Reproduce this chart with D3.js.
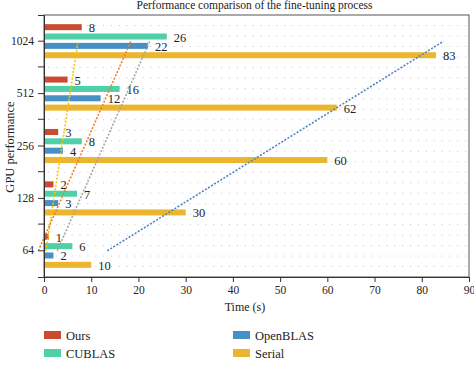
<!DOCTYPE html>
<html>
<head>
<meta charset="utf-8">
<script src="https://cdn.jsdelivr.net/npm/d3@7"></script>
<style>
body { margin: 0; background: #fff; }
svg text { font-family: "Liberation Serif", "DejaVu Serif", serif; fill: #222; }
</style>
</head>
<body>
<script>
var width = 474;
var height = 376;

// data
var categories = ["64", "128", "256", "512", "1024"];
var seriesNames = ["Ours", "CUBLAS", "OpenBLAS", "Serial"];
var ours = [1, 2, 3, 5, 8];
var cublas = [6, 7, 8, 16, 26];
var openblas = [2, 3, 4, 12, 22];
var serial = [10, 30, 60, 62, 83];
var xTicks = [0, 10, 20, 30, 40, 50, 60, 70, 80, 90];

var barColors = ["#cb4a30", "#4fd0a6", "#4690c6", "#ebb52f"];
// trendline colours, one per series
var trendColors = ["#f7c600", "#a6a6a6", "#f07d2c", "#4a84c6"];

var seriesValues = [ours, cublas, openblas, serial];

var plotL = 44, plotR = 469, plotT = 15, plotB = 277;

var svg = d3.select("body")
  .append("svg")
  .attr("width", width)
  .attr("height", height);

var xScale = d3.scaleLinear().domain([0, 90]).range([plotL, plotR]);
var yScale = d3.scaleBand().domain(categories).range([plotB, plotT]);
var subScale = d3.scaleBand().domain(seriesNames)
  .range([-yScale.bandwidth() * 0.357, yScale.bandwidth() * 0.357]);
var barH = 6;

// dotted grid
var gridStep = yScale.bandwidth() / 5;
var gy = d3.range(plotB - gridStep, plotT, -gridStep);
svg.append("g").selectAll("line")
  .data(gy)
  .enter()
  .append("line")
  .attr("x1", plotL + 4)
  .attr("x2", plotR)
  .attr("y1", function(d) { return d; })
  .attr("y2", function(d) { return d; })
  .attr("stroke", "#c4c4c4")
  .attr("stroke-width", 1)
  .attr("stroke-dasharray", "1," + ((xScale(10) - xScale(0)) / 6 - 1));

// bars
seriesNames.forEach(function(name, i) {
  var g = svg.append("g");
  g.selectAll("rect")
    .data(seriesValues[i])
    .enter()
    .append("rect")
    .attr("x", xScale(0))
    .attr("y", function(d, j) {
      return yScale(categories[j]) + yScale.bandwidth() / 2 + subScale(name) + subScale.bandwidth() / 2 - barH / 2;
    })
    .attr("width", function(d) { return xScale(d) - xScale(0); })
    .attr("height", barH)
    .attr("fill", barColors[i]);

  g.selectAll("text")
    .data(seriesValues[i])
    .enter()
    .append("text")
    .text(function(d) { return d; })
    .attr("x", function(d) { return xScale(d) + 7; })
    .attr("y", function(d, j) {
      return yScale(categories[j]) + yScale.bandwidth() / 2 + subScale(name) + subScale.bandwidth() / 2 + 5;
    })
    .attr("font-size", "12.5px");
});

// linear trendlines (least squares on category index)
seriesNames.forEach(function(name, i) {
  var vals = seriesValues[i];
  var xs = vals.map(function(d, j) { return j + 1; });
  var mx = d3.mean(xs), my = d3.mean(vals);
  var sxy = d3.sum(xs, function(x, j) { return (x - mx) * (vals[j] - my); });
  var sxx = d3.sum(xs, function(x) { return (x - mx) * (x - mx); });
  var slope = sxy / sxx, icpt = my - slope * mx;
  var pts = [0, categories.length - 1].map(function(j) {
    return [xScale(icpt + slope * (j + 1)), yScale(categories[j]) + yScale.bandwidth() / 2];
  });
  svg.append("path")
    .attr("d", d3.line()(pts))
    .attr("fill", "none")
    .attr("stroke", trendColors[i])
    .attr("stroke-width", 1.6)
    .attr("stroke-dasharray", "2,1.6");
});

// frame
svg.append("rect")
  .attr("x", plotL).attr("y", plotT)
  .attr("width", plotR - plotL).attr("height", plotB - plotT)
  .attr("fill", "none")
  .attr("stroke", "#555")
  .attr("stroke-width", 1);

// x axis
var xAxis = d3.axisBottom(xScale).tickValues(xTicks).tickSize(5).tickPadding(4);
var gx = svg.append("g")
  .attr("transform", "translate(0," + plotB + ")")
  .call(xAxis);
gx.selectAll("text").attr("font-size", "11.5px").attr("font-family", "Liberation Serif, serif");
gx.selectAll("line, path").attr("stroke", "#333");

// y axis with minor ticks at band edges
var yAxis = d3.axisLeft(yScale).tickSize(6).tickPadding(4);
var gyAxis = svg.append("g")
  .attr("transform", "translate(" + plotL + ",0)")
  .call(yAxis);
gyAxis.selectAll("text").attr("font-size", "11.5px").attr("font-family", "Liberation Serif, serif");
gyAxis.selectAll("line, path").attr("stroke", "#333");
gyAxis.selectAll(".minor")
  .data(categories.slice(0, categories.length - 1))
  .enter()
  .append("line")
  .attr("class", "minor")
  .attr("x1", -6).attr("x2", 0)
  .attr("y1", function(d) { return yScale(d) - 0.5; })
  .attr("y2", function(d) { return yScale(d) - 0.5; })
  .attr("stroke", "#333");

// titles
svg.append("text")
  .text("Performance comparison of the fine-tuning process")
  .attr("x", (plotL + plotR) / 2 - 2)
  .attr("y", 9)
  .attr("text-anchor", "middle")
  .attr("font-size", "11.5px");

svg.append("text")
  .text("Time (s)")
  .attr("x", 245)
  .attr("y", 311)
  .attr("text-anchor", "middle")
  .attr("font-size", "12px");

svg.append("text")
  .text("GPU performance")
  .attr("transform", "translate(14," + ((plotT + plotB) / 2 + 1) + ") rotate(-90)")
  .attr("text-anchor", "middle")
  .attr("font-size", "12.5px");

// legend
var legendPos = [[44, 335], [44, 353], [233, 335], [233, 353]];
var legend = svg.append("g").selectAll("g")
  .data(seriesNames)
  .enter()
  .append("g")
  .attr("transform", function(d, i) { return "translate(" + legendPos[i][0] + "," + legendPos[i][1] + ")"; });
legend.append("rect")
  .attr("x", 0).attr("y", -4)
  .attr("width", 17).attr("height", 8)
  .attr("fill", function(d, i) { return barColors[i]; });
legend.append("text")
  .text(function(d) { return d; })
  .attr("x", 22)
  .attr("y", 4.5)
  .attr("font-size", "12.5px");
</script>
</body>
</html>
